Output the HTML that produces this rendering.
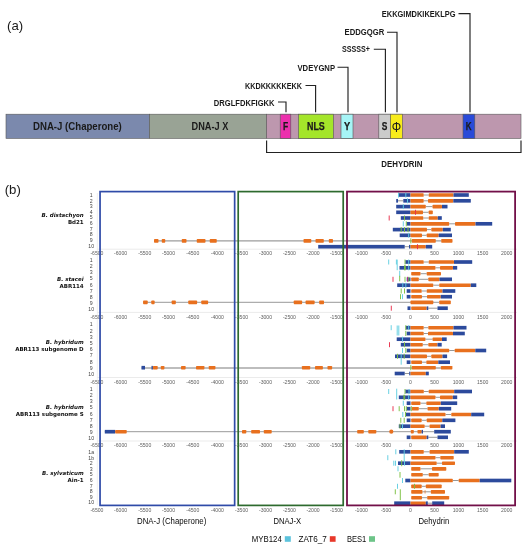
<!DOCTYPE html>
<html lang="en"><head><meta charset="utf-8"><title>Figure</title>
<style>
html,body{margin:0;padding:0;background:#fff;}
svg{display:block;}
</style></head>
<body>
<svg width="528" height="550" viewBox="0 0 528 550">
<rect width="528" height="550" fill="#ffffff"/>
<text x="7.1" y="29.6" font-family="'Liberation Sans',Arial,sans-serif" font-size="13.2" fill="#1a1a1a">(a)</text>
<text x="4.7" y="194.1" font-family="'Liberation Sans',Arial,sans-serif" font-size="13.2" fill="#1a1a1a">(b)</text>
<rect x="6" y="114.2" width="143.50" height="24.2" fill="#7b89ad" stroke="#585858" stroke-width="0.6"/>
<rect x="149.5" y="114.2" width="117.00" height="24.2" fill="#99a395" stroke="#585858" stroke-width="0.6"/>
<rect x="266.5" y="114.2" width="254.50" height="24.2" fill="#bd97ae" stroke="#585858" stroke-width="0.6"/>
<rect x="280.2" y="114.2" width="10.60" height="24.2" fill="#ec30ad" stroke="#585858" stroke-width="0.6"/>
<rect x="298.6" y="114.2" width="34.70" height="24.2" fill="#a4e52a" stroke="#585858" stroke-width="0.6"/>
<rect x="341" y="114.2" width="12.00" height="24.2" fill="#a6f4f6" stroke="#585858" stroke-width="0.6"/>
<rect x="378.8" y="114.2" width="11.50" height="24.2" fill="#cbcbcb" stroke="#585858" stroke-width="0.6"/>
<rect x="390.3" y="114.2" width="12.00" height="24.2" fill="#f8ec1c" stroke="#585858" stroke-width="0.6"/>
<rect x="463" y="114.2" width="11.80" height="24.2" fill="#2a4ad8" stroke="#585858" stroke-width="0.6"/>
<polyline points="278,102 286,102 286,112.3" fill="none" stroke="#222" stroke-width="1.15"/>
<polyline points="305.5,85.5 315.6,85.5 315.6,112.3" fill="none" stroke="#222" stroke-width="1.15"/>
<polyline points="337.5,67.2 348,67.2 348,112.3" fill="none" stroke="#222" stroke-width="1.15"/>
<polyline points="373.8,49.2 385.4,49.2 385.4,112.3" fill="none" stroke="#222" stroke-width="1.15"/>
<polyline points="387,32.2 397,32.2 397,112.3" fill="none" stroke="#222" stroke-width="1.15"/>
<polyline points="458.5,13.6 470,13.6 470,112.3" fill="none" stroke="#222" stroke-width="1.15"/>
<polyline points="266.6,140.5 266.6,152.5 521,152.5 521,140.5" fill="none" stroke="#222" stroke-width="1.15"/>
<text x="213.8" y="106" font-family="'Liberation Sans',Arial,sans-serif" font-weight="bold" fill="#1a1a1a" font-size="8.8" textLength="60.70" lengthAdjust="spacingAndGlyphs">DRGLFDKFIGKK</text>
<text x="245" y="88.8" font-family="'Liberation Sans',Arial,sans-serif" font-weight="bold" fill="#1a1a1a" font-size="8.8" textLength="57.00" lengthAdjust="spacingAndGlyphs">KKDKKKKKEKK</text>
<text x="297.5" y="70.5" font-family="'Liberation Sans',Arial,sans-serif" font-weight="bold" fill="#1a1a1a" font-size="8.8" textLength="37.50" lengthAdjust="spacingAndGlyphs">VDEYGNP</text>
<text x="342" y="52.3" font-family="'Liberation Sans',Arial,sans-serif" font-weight="bold" fill="#1a1a1a" font-size="8.8" textLength="28.00" lengthAdjust="spacingAndGlyphs">SSSSS+</text>
<text x="344.5" y="35.3" font-family="'Liberation Sans',Arial,sans-serif" font-weight="bold" fill="#1a1a1a" font-size="8.8" textLength="39.80" lengthAdjust="spacingAndGlyphs">EDDGQGR</text>
<text x="381.8" y="16.8" font-family="'Liberation Sans',Arial,sans-serif" font-weight="bold" fill="#1a1a1a" font-size="8.8" textLength="73.70" lengthAdjust="spacingAndGlyphs">EKKGIMDKIKEKLPG</text>
<text x="381.3" y="166.5" font-family="'Liberation Sans',Arial,sans-serif" font-weight="bold" fill="#1a1a1a" font-size="8.8" textLength="41.10" lengthAdjust="spacingAndGlyphs">DEHYDRIN</text>
<text x="33" y="130.1" font-family="'Liberation Sans',Arial,sans-serif" font-weight="bold" fill="#1a1a1a" font-size="10.4" textLength="88.80" lengthAdjust="spacingAndGlyphs">DNA-J (Chaperone)</text>
<text x="191.5" y="130.1" font-family="'Liberation Sans',Arial,sans-serif" font-weight="bold" fill="#1a1a1a" font-size="10.4" textLength="36.80" lengthAdjust="spacingAndGlyphs">DNA-J X</text>
<text x="283.00" y="130" font-family="'Liberation Sans',Arial,sans-serif" font-weight="bold" fill="#1a1a1a" stroke="#1a1a1a" stroke-width="0.25" font-size="10.2" textLength="5.2" lengthAdjust="spacingAndGlyphs">F</text>
<text x="307.00" y="130" font-family="'Liberation Sans',Arial,sans-serif" font-weight="bold" fill="#1a1a1a" stroke="#1a1a1a" stroke-width="0.25" font-size="10.2" textLength="17.8" lengthAdjust="spacingAndGlyphs">NLS</text>
<text x="344.00" y="130" font-family="'Liberation Sans',Arial,sans-serif" font-weight="bold" fill="#1a1a1a" stroke="#1a1a1a" stroke-width="0.25" font-size="10.2" textLength="6.2" lengthAdjust="spacingAndGlyphs">Y</text>
<text x="381.70" y="130" font-family="'Liberation Sans',Arial,sans-serif" font-weight="bold" fill="#1a1a1a" stroke="#1a1a1a" stroke-width="0.25" font-size="10.2" textLength="5.6" lengthAdjust="spacingAndGlyphs">S</text>
<text x="465.80" y="130" font-family="'Liberation Sans',Arial,sans-serif" font-weight="bold" fill="#1a1a1a" stroke="#1a1a1a" stroke-width="0.25" font-size="10.2" textLength="5.8" lengthAdjust="spacingAndGlyphs">K</text>
<text transform="translate(396.4,132.1) scale(0.8,1)" x="0" y="0" font-family="'Liberation Sans','DejaVu Sans',sans-serif" font-size="14.8" fill="#1a1a1a" text-anchor="middle">Φ</text>
<g shape-rendering="auto">
<line x1="97.30" y1="249.20" x2="517.00" y2="249.20" stroke="#e2e2e2" stroke-width="0.7"/>
<line x1="97.30" y1="312.40" x2="517.00" y2="312.40" stroke="#e2e2e2" stroke-width="0.7"/>
<line x1="97.30" y1="377.50" x2="517.00" y2="377.50" stroke="#e2e2e2" stroke-width="0.7"/>
<line x1="97.30" y1="441.00" x2="517.00" y2="441.00" stroke="#e2e2e2" stroke-width="0.7"/>
<line x1="97.30" y1="193.00" x2="97.30" y2="505.00" stroke="#e4e4e4" stroke-width="0.6"/>
<g font-family="'Liberation Sans',Arial,sans-serif" font-size="5.1" fill="#606060" text-anchor="middle">
<text x="96.90" y="255.35">-6500</text>
<text x="120.60" y="255.35">-6000</text>
<text x="144.75" y="255.35">-5500</text>
<text x="168.50" y="255.35">-5000</text>
<text x="192.75" y="255.35">-4500</text>
<text x="217.30" y="255.35">-4000</text>
<text x="241.60" y="255.35">-3500</text>
<text x="265.50" y="255.35">-3000</text>
<text x="289.40" y="255.35">-2500</text>
<text x="313.10" y="255.35">-2000</text>
<text x="336.40" y="255.35">-1500</text>
<text x="361.40" y="255.35">-1000</text>
<text x="386.00" y="255.35">-500</text>
<text x="410.50" y="255.35">0</text>
<text x="434.50" y="255.35">500</text>
<text x="458.40" y="255.35">1000</text>
<text x="482.70" y="255.35">1500</text>
<text x="506.70" y="255.35">2000</text>
<text x="96.90" y="318.75">-6500</text>
<text x="120.60" y="318.75">-6000</text>
<text x="144.75" y="318.75">-5500</text>
<text x="168.50" y="318.75">-5000</text>
<text x="192.75" y="318.75">-4500</text>
<text x="217.30" y="318.75">-4000</text>
<text x="241.60" y="318.75">-3500</text>
<text x="265.50" y="318.75">-3000</text>
<text x="289.40" y="318.75">-2500</text>
<text x="313.10" y="318.75">-2000</text>
<text x="336.40" y="318.75">-1500</text>
<text x="361.40" y="318.75">-1000</text>
<text x="386.00" y="318.75">-500</text>
<text x="410.50" y="318.75">0</text>
<text x="434.50" y="318.75">500</text>
<text x="458.40" y="318.75">1000</text>
<text x="482.70" y="318.75">1500</text>
<text x="506.70" y="318.75">2000</text>
<text x="96.90" y="383.95">-6500</text>
<text x="120.60" y="383.95">-6000</text>
<text x="144.75" y="383.95">-5500</text>
<text x="168.50" y="383.95">-5000</text>
<text x="192.75" y="383.95">-4500</text>
<text x="217.30" y="383.95">-4000</text>
<text x="241.60" y="383.95">-3500</text>
<text x="265.50" y="383.95">-3000</text>
<text x="289.40" y="383.95">-2500</text>
<text x="313.10" y="383.95">-2000</text>
<text x="336.40" y="383.95">-1500</text>
<text x="361.40" y="383.95">-1000</text>
<text x="386.00" y="383.95">-500</text>
<text x="410.50" y="383.95">0</text>
<text x="434.50" y="383.95">500</text>
<text x="458.40" y="383.95">1000</text>
<text x="482.70" y="383.95">1500</text>
<text x="506.70" y="383.95">2000</text>
<text x="96.90" y="447.35">-6500</text>
<text x="120.60" y="447.35">-6000</text>
<text x="144.75" y="447.35">-5500</text>
<text x="168.50" y="447.35">-5000</text>
<text x="192.75" y="447.35">-4500</text>
<text x="217.30" y="447.35">-4000</text>
<text x="241.60" y="447.35">-3500</text>
<text x="265.50" y="447.35">-3000</text>
<text x="289.40" y="447.35">-2500</text>
<text x="313.10" y="447.35">-2000</text>
<text x="336.40" y="447.35">-1500</text>
<text x="361.40" y="447.35">-1000</text>
<text x="386.00" y="447.35">-500</text>
<text x="410.50" y="447.35">0</text>
<text x="434.50" y="447.35">500</text>
<text x="458.40" y="447.35">1000</text>
<text x="482.70" y="447.35">1500</text>
<text x="506.70" y="447.35">2000</text>
<text x="96.90" y="511.95">-6500</text>
<text x="120.60" y="511.95">-6000</text>
<text x="144.75" y="511.95">-5500</text>
<text x="168.50" y="511.95">-5000</text>
<text x="192.75" y="511.95">-4500</text>
<text x="217.30" y="511.95">-4000</text>
<text x="241.60" y="511.95">-3500</text>
<text x="265.50" y="511.95">-3000</text>
<text x="289.40" y="511.95">-2500</text>
<text x="313.10" y="511.95">-2000</text>
<text x="336.40" y="511.95">-1500</text>
<text x="361.40" y="511.95">-1000</text>
<text x="386.00" y="511.95">-500</text>
<text x="410.50" y="511.95">0</text>
<text x="434.50" y="511.95">500</text>
<text x="458.40" y="511.95">1000</text>
<text x="482.70" y="511.95">1500</text>
<text x="506.70" y="511.95">2000</text>
</g>
<line x1="423.70" y1="195.00" x2="428.70" y2="195.00" stroke="#7d7d7d" stroke-width="0.8"/>
<rect x="398.30" y="193.18" width="12.20" height="3.65" fill="#2c4a9c"/>
<rect x="410.50" y="193.18" width="13.20" height="3.65" fill="#e8701e" rx="0.7"/>
<rect x="428.70" y="193.18" width="24.80" height="3.65" fill="#e8701e" rx="0.7"/>
<rect x="453.50" y="193.18" width="15.30" height="3.65" fill="#2c4a9c"/>
<line x1="398.50" y1="192.50" x2="398.50" y2="197.50" stroke="#62cfe2" stroke-width="0.95"/>
<line x1="405.80" y1="192.50" x2="405.80" y2="197.50" stroke="#62cfe2" stroke-width="0.95"/>
<line x1="398.00" y1="200.80" x2="403.30" y2="200.80" stroke="#7d7d7d" stroke-width="0.8"/>
<line x1="423.70" y1="200.80" x2="428.00" y2="200.80" stroke="#7d7d7d" stroke-width="0.8"/>
<rect x="396.20" y="198.98" width="1.80" height="3.65" fill="#2c4a9c"/>
<rect x="403.30" y="198.98" width="7.20" height="3.65" fill="#2c4a9c"/>
<rect x="410.50" y="198.98" width="13.20" height="3.65" fill="#e8701e" rx="0.7"/>
<rect x="428.00" y="198.98" width="25.30" height="3.65" fill="#e8701e" rx="0.7"/>
<rect x="453.30" y="198.98" width="17.50" height="3.65" fill="#2c4a9c"/>
<line x1="407.50" y1="198.30" x2="407.50" y2="203.30" stroke="#62cfe2" stroke-width="0.95"/>
<line x1="425.80" y1="206.60" x2="432.50" y2="206.60" stroke="#7d7d7d" stroke-width="0.8"/>
<rect x="396.20" y="204.78" width="14.30" height="3.65" fill="#2c4a9c"/>
<rect x="410.50" y="204.78" width="15.30" height="3.65" fill="#e8701e" rx="0.7"/>
<rect x="432.50" y="204.78" width="9.50" height="3.65" fill="#e8701e" rx="0.7"/>
<rect x="442.00" y="204.78" width="5.50" height="3.65" fill="#2c4a9c"/>
<line x1="403.30" y1="204.10" x2="403.30" y2="209.10" stroke="#62cfe2" stroke-width="0.95"/>
<line x1="423.00" y1="212.30" x2="428.70" y2="212.30" stroke="#7d7d7d" stroke-width="0.8"/>
<rect x="396.20" y="210.48" width="14.30" height="3.65" fill="#2c4a9c"/>
<rect x="410.50" y="210.48" width="12.50" height="3.65" fill="#e8701e" rx="0.7"/>
<rect x="428.70" y="210.48" width="4.10" height="3.65" fill="#e8701e" rx="0.7"/>
<line x1="415.50" y1="209.80" x2="415.50" y2="214.80" stroke="#e8304c" stroke-width="0.95"/>
<line x1="423.30" y1="218.00" x2="428.70" y2="218.00" stroke="#7d7d7d" stroke-width="0.8"/>
<rect x="400.80" y="216.18" width="9.70" height="3.65" fill="#2c4a9c"/>
<rect x="410.50" y="216.18" width="12.80" height="3.65" fill="#e8701e" rx="0.7"/>
<rect x="428.70" y="216.18" width="9.10" height="3.65" fill="#e8701e" rx="0.7"/>
<rect x="437.80" y="216.18" width="4.00" height="3.65" fill="#2c4a9c"/>
<line x1="389.20" y1="215.50" x2="389.20" y2="220.50" stroke="#e8304c" stroke-width="0.95"/>
<line x1="404.50" y1="215.50" x2="404.50" y2="220.50" stroke="#7cc142" stroke-width="0.95"/>
<line x1="449.20" y1="223.80" x2="455.00" y2="223.80" stroke="#7d7d7d" stroke-width="0.8"/>
<rect x="406.70" y="221.98" width="3.80" height="3.65" fill="#2c4a9c"/>
<rect x="410.50" y="221.98" width="38.70" height="3.65" fill="#e8701e" rx="0.7"/>
<rect x="455.00" y="221.98" width="20.50" height="3.65" fill="#e8701e" rx="0.7"/>
<rect x="475.50" y="221.98" width="16.70" height="3.65" fill="#2c4a9c"/>
<line x1="403.30" y1="221.30" x2="403.30" y2="226.30" stroke="#62cfe2" stroke-width="0.95"/>
<line x1="406.30" y1="221.30" x2="406.30" y2="226.30" stroke="#7cc142" stroke-width="0.95"/>
<line x1="427.00" y1="229.60" x2="431.30" y2="229.60" stroke="#7d7d7d" stroke-width="0.8"/>
<rect x="392.80" y="227.78" width="17.70" height="3.65" fill="#2c4a9c"/>
<rect x="410.50" y="227.78" width="16.50" height="3.65" fill="#e8701e" rx="0.7"/>
<rect x="431.30" y="227.78" width="11.50" height="3.65" fill="#e8701e" rx="0.7"/>
<rect x="442.80" y="227.78" width="8.00" height="3.65" fill="#2c4a9c"/>
<line x1="401.20" y1="227.10" x2="401.20" y2="232.10" stroke="#7cc142" stroke-width="0.95"/>
<line x1="404.50" y1="227.10" x2="404.50" y2="232.10" stroke="#7cc142" stroke-width="0.95"/>
<line x1="408.00" y1="227.10" x2="408.00" y2="232.10" stroke="#7cc142" stroke-width="0.95"/>
<line x1="422.00" y1="235.30" x2="426.70" y2="235.30" stroke="#7d7d7d" stroke-width="0.8"/>
<rect x="399.70" y="233.48" width="10.80" height="3.65" fill="#2c4a9c"/>
<rect x="410.50" y="233.48" width="11.50" height="3.65" fill="#e8701e" rx="0.7"/>
<rect x="426.70" y="233.48" width="12.00" height="3.65" fill="#e8701e" rx="0.7"/>
<rect x="438.70" y="233.48" width="13.30" height="3.65" fill="#2c4a9c"/>
<line x1="408.70" y1="232.80" x2="408.70" y2="237.80" stroke="#62cfe2" stroke-width="0.95"/>
<line x1="154.00" y1="240.80" x2="441.20" y2="240.80" stroke="#9c9c9c" stroke-width="1.3"/>
<rect x="154.00" y="239.08" width="4.50" height="3.65" fill="#e8701e" rx="0.7"/>
<rect x="161.75" y="239.08" width="3.50" height="3.65" fill="#e8701e" rx="0.7"/>
<rect x="181.75" y="239.08" width="4.75" height="3.65" fill="#e8701e" rx="0.7"/>
<rect x="196.75" y="239.08" width="8.75" height="3.65" fill="#e8701e" rx="0.7"/>
<rect x="209.75" y="239.08" width="7.00" height="3.65" fill="#e8701e" rx="0.7"/>
<rect x="303.50" y="239.08" width="7.80" height="3.65" fill="#e8701e" rx="0.7"/>
<rect x="315.50" y="239.08" width="8.30" height="3.65" fill="#e8701e" rx="0.7"/>
<rect x="328.80" y="239.08" width="4.20" height="3.65" fill="#e8701e" rx="0.7"/>
<rect x="411.70" y="239.08" width="24.10" height="3.65" fill="#e8701e" rx="0.7"/>
<rect x="441.20" y="239.08" width="11.30" height="3.65" fill="#e8701e" rx="0.7"/>
<line x1="410.80" y1="238.40" x2="410.80" y2="243.40" stroke="#7cc142" stroke-width="0.95"/>
<line x1="404.70" y1="246.70" x2="409.00" y2="246.70" stroke="#7d7d7d" stroke-width="0.8"/>
<rect x="318.20" y="244.88" width="86.50" height="3.65" fill="#2c4a9c"/>
<rect x="409.00" y="244.88" width="1.50" height="3.65" fill="#2c4a9c"/>
<rect x="410.50" y="244.88" width="15.30" height="3.65" fill="#e8701e" rx="0.7"/>
<rect x="425.80" y="244.88" width="6.40" height="3.65" fill="#2c4a9c"/>
<line x1="417.50" y1="244.20" x2="417.50" y2="249.20" stroke="#e8304c" stroke-width="0.95"/>
<line x1="423.70" y1="262.00" x2="428.70" y2="262.00" stroke="#7d7d7d" stroke-width="0.8"/>
<rect x="405.30" y="260.18" width="5.20" height="3.65" fill="#2c4a9c"/>
<rect x="410.50" y="260.18" width="13.20" height="3.65" fill="#e8701e" rx="0.7"/>
<rect x="428.70" y="260.18" width="25.30" height="3.65" fill="#e8701e" rx="0.7"/>
<rect x="454.00" y="260.18" width="18.20" height="3.65" fill="#2c4a9c"/>
<line x1="388.70" y1="259.50" x2="388.70" y2="264.50" stroke="#62cfe2" stroke-width="0.95"/>
<line x1="396.40" y1="259.60" x2="396.40" y2="264.50" stroke="#62cfe2" stroke-width="0.95"/>
<line x1="397.20" y1="259.60" x2="397.20" y2="270.20" stroke="#62cfe2" stroke-width="0.95"/>
<line x1="405.00" y1="259.50" x2="405.00" y2="264.50" stroke="#7cc142" stroke-width="0.95"/>
<line x1="408.70" y1="259.50" x2="408.70" y2="264.50" stroke="#62cfe2" stroke-width="0.95"/>
<line x1="435.50" y1="267.80" x2="440.00" y2="267.80" stroke="#7d7d7d" stroke-width="0.8"/>
<rect x="399.50" y="265.98" width="11.00" height="3.65" fill="#2c4a9c"/>
<rect x="410.50" y="265.98" width="25.00" height="3.65" fill="#e8701e" rx="0.7"/>
<rect x="440.00" y="265.98" width="13.00" height="3.65" fill="#e8701e" rx="0.7"/>
<rect x="453.00" y="265.98" width="4.20" height="3.65" fill="#2c4a9c"/>
<line x1="404.50" y1="265.30" x2="404.50" y2="270.30" stroke="#7cc142" stroke-width="0.95"/>
<line x1="405.30" y1="265.30" x2="405.30" y2="270.30" stroke="#7cc142" stroke-width="0.95"/>
<line x1="408.70" y1="265.30" x2="408.70" y2="270.30" stroke="#62cfe2" stroke-width="0.95"/>
<line x1="420.50" y1="273.70" x2="426.70" y2="273.70" stroke="#7d7d7d" stroke-width="0.8"/>
<rect x="411.20" y="271.88" width="9.30" height="3.65" fill="#e8701e" rx="0.7"/>
<rect x="426.70" y="271.88" width="14.30" height="3.65" fill="#e8701e" rx="0.7"/>
<line x1="399.70" y1="270.70" x2="399.70" y2="276.50" stroke="#62cfe2" stroke-width="0.95"/>
<line x1="418.80" y1="279.30" x2="428.30" y2="279.30" stroke="#7d7d7d" stroke-width="0.8"/>
<rect x="406.70" y="277.48" width="3.80" height="3.65" fill="#2c4a9c"/>
<rect x="411.20" y="277.48" width="7.60" height="3.65" fill="#e8701e" rx="0.7"/>
<rect x="428.30" y="277.48" width="11.20" height="3.65" fill="#e8701e" rx="0.7"/>
<rect x="439.50" y="277.48" width="12.50" height="3.65" fill="#2c4a9c"/>
<line x1="393.00" y1="276.80" x2="393.00" y2="281.80" stroke="#e8304c" stroke-width="0.95"/>
<line x1="399.70" y1="275.80" x2="399.70" y2="281.30" stroke="#7cc142" stroke-width="0.95"/>
<line x1="405.00" y1="276.80" x2="405.00" y2="281.80" stroke="#7cc142" stroke-width="0.95"/>
<line x1="407.60" y1="276.80" x2="407.60" y2="281.80" stroke="#c2258f" stroke-width="0.95"/>
<line x1="408.80" y1="276.80" x2="408.80" y2="281.80" stroke="#7cc142" stroke-width="0.95"/>
<line x1="433.30" y1="285.20" x2="439.20" y2="285.20" stroke="#7d7d7d" stroke-width="0.8"/>
<rect x="397.20" y="283.38" width="13.30" height="3.65" fill="#2c4a9c"/>
<rect x="410.50" y="283.38" width="22.80" height="3.65" fill="#e8701e" rx="0.7"/>
<rect x="439.20" y="283.38" width="31.60" height="3.65" fill="#e8701e" rx="0.7"/>
<rect x="470.80" y="283.38" width="5.50" height="3.65" fill="#2c4a9c"/>
<line x1="402.80" y1="282.70" x2="402.80" y2="287.70" stroke="#62cfe2" stroke-width="0.95"/>
<line x1="405.80" y1="282.70" x2="405.80" y2="287.70" stroke="#62cfe2" stroke-width="0.95"/>
<line x1="421.70" y1="291.00" x2="426.70" y2="291.00" stroke="#7d7d7d" stroke-width="0.8"/>
<rect x="406.70" y="289.18" width="3.80" height="3.65" fill="#2c4a9c"/>
<rect x="411.20" y="289.18" width="10.50" height="3.65" fill="#e8701e" rx="0.7"/>
<rect x="426.70" y="289.18" width="15.80" height="3.65" fill="#e8701e" rx="0.7"/>
<rect x="442.50" y="289.18" width="12.80" height="3.65" fill="#2c4a9c"/>
<line x1="401.20" y1="288.50" x2="401.20" y2="293.50" stroke="#7cc142" stroke-width="0.95"/>
<line x1="404.50" y1="288.50" x2="404.50" y2="293.50" stroke="#7cc142" stroke-width="0.95"/>
<line x1="422.00" y1="296.70" x2="427.00" y2="296.70" stroke="#7d7d7d" stroke-width="0.8"/>
<rect x="406.70" y="294.88" width="3.80" height="3.65" fill="#2c4a9c"/>
<rect x="411.20" y="294.88" width="10.80" height="3.65" fill="#e8701e" rx="0.7"/>
<rect x="427.00" y="294.88" width="13.80" height="3.65" fill="#e8701e" rx="0.7"/>
<rect x="440.80" y="294.88" width="11.20" height="3.65" fill="#2c4a9c"/>
<line x1="400.50" y1="294.20" x2="400.50" y2="299.20" stroke="#7cc142" stroke-width="0.95"/>
<line x1="402.50" y1="294.20" x2="402.50" y2="299.20" stroke="#62cfe2" stroke-width="0.95"/>
<line x1="143.00" y1="302.30" x2="439.20" y2="302.30" stroke="#7d7d7d" stroke-width="0.8"/>
<rect x="143.10" y="300.48" width="4.60" height="3.65" fill="#e8701e" rx="0.7"/>
<rect x="151.30" y="300.48" width="3.30" height="3.65" fill="#e8701e" rx="0.7"/>
<rect x="171.70" y="300.48" width="4.10" height="3.65" fill="#e8701e" rx="0.7"/>
<rect x="188.30" y="300.48" width="8.80" height="3.65" fill="#e8701e" rx="0.7"/>
<rect x="201.30" y="300.48" width="6.80" height="3.65" fill="#e8701e" rx="0.7"/>
<rect x="293.75" y="300.48" width="8.35" height="3.65" fill="#e8701e" rx="0.7"/>
<rect x="305.60" y="300.48" width="9.00" height="3.65" fill="#e8701e" rx="0.7"/>
<rect x="319.20" y="300.48" width="4.80" height="3.65" fill="#e8701e" rx="0.7"/>
<rect x="410.50" y="300.48" width="22.80" height="3.65" fill="#e8701e" rx="0.7"/>
<rect x="439.20" y="300.48" width="11.60" height="3.65" fill="#e8701e" rx="0.7"/>
<line x1="428.30" y1="308.20" x2="437.50" y2="308.20" stroke="#7d7d7d" stroke-width="0.8"/>
<rect x="407.50" y="306.38" width="3.00" height="3.65" fill="#2c4a9c"/>
<rect x="411.20" y="306.38" width="15.50" height="3.65" fill="#e8701e" rx="0.7"/>
<rect x="426.70" y="306.38" width="1.60" height="3.65" fill="#2c4a9c"/>
<rect x="437.50" y="306.38" width="10.30" height="3.65" fill="#2c4a9c"/>
<line x1="391.30" y1="305.70" x2="391.30" y2="310.70" stroke="#e8304c" stroke-width="0.95"/>
<line x1="423.70" y1="327.70" x2="428.30" y2="327.70" stroke="#7d7d7d" stroke-width="0.8"/>
<rect x="405.80" y="325.88" width="4.70" height="3.65" fill="#2c4a9c"/>
<rect x="410.50" y="325.88" width="13.20" height="3.65" fill="#e8701e" rx="0.7"/>
<rect x="428.30" y="325.88" width="25.20" height="3.65" fill="#e8701e" rx="0.7"/>
<rect x="453.50" y="325.88" width="13.00" height="3.65" fill="#2c4a9c"/>
<line x1="391.20" y1="325.20" x2="391.20" y2="330.20" stroke="#62cfe2" stroke-width="0.95"/>
<line x1="397.20" y1="325.50" x2="397.20" y2="335.50" stroke="#62cfe2" stroke-width="0.95"/>
<line x1="398.80" y1="325.50" x2="398.80" y2="335.50" stroke="#62cfe2" stroke-width="0.95"/>
<line x1="405.80" y1="325.20" x2="405.80" y2="330.20" stroke="#7cc142" stroke-width="0.95"/>
<line x1="408.70" y1="325.20" x2="408.70" y2="330.20" stroke="#62cfe2" stroke-width="0.95"/>
<line x1="423.70" y1="333.50" x2="428.00" y2="333.50" stroke="#7d7d7d" stroke-width="0.8"/>
<rect x="406.70" y="331.68" width="3.80" height="3.65" fill="#2c4a9c"/>
<rect x="410.50" y="331.68" width="13.20" height="3.65" fill="#e8701e" rx="0.7"/>
<rect x="428.00" y="331.68" width="25.00" height="3.65" fill="#e8701e" rx="0.7"/>
<rect x="453.00" y="331.68" width="11.80" height="3.65" fill="#2c4a9c"/>
<line x1="405.80" y1="331.00" x2="405.80" y2="336.00" stroke="#7cc142" stroke-width="0.95"/>
<line x1="425.50" y1="339.20" x2="432.50" y2="339.20" stroke="#7d7d7d" stroke-width="0.8"/>
<rect x="396.70" y="337.38" width="13.80" height="3.65" fill="#2c4a9c"/>
<rect x="410.50" y="337.38" width="15.00" height="3.65" fill="#e8701e" rx="0.7"/>
<rect x="432.50" y="337.38" width="9.50" height="3.65" fill="#e8701e" rx="0.7"/>
<rect x="442.00" y="337.38" width="4.70" height="3.65" fill="#2c4a9c"/>
<line x1="402.50" y1="336.70" x2="402.50" y2="341.70" stroke="#62cfe2" stroke-width="0.95"/>
<line x1="422.80" y1="344.70" x2="428.30" y2="344.70" stroke="#7d7d7d" stroke-width="0.8"/>
<rect x="400.80" y="342.88" width="9.70" height="3.65" fill="#2c4a9c"/>
<rect x="410.50" y="342.88" width="12.30" height="3.65" fill="#e8701e" rx="0.7"/>
<rect x="428.30" y="342.88" width="9.20" height="3.65" fill="#e8701e" rx="0.7"/>
<rect x="437.50" y="342.88" width="4.20" height="3.65" fill="#2c4a9c"/>
<line x1="389.50" y1="342.20" x2="389.50" y2="347.20" stroke="#e8304c" stroke-width="0.95"/>
<line x1="404.50" y1="342.20" x2="404.50" y2="347.20" stroke="#7cc142" stroke-width="0.95"/>
<line x1="449.20" y1="350.50" x2="454.70" y2="350.50" stroke="#7d7d7d" stroke-width="0.8"/>
<rect x="406.70" y="348.68" width="3.80" height="3.65" fill="#2c4a9c"/>
<rect x="410.50" y="348.68" width="38.70" height="3.65" fill="#e8701e" rx="0.7"/>
<rect x="454.70" y="348.68" width="20.60" height="3.65" fill="#e8701e" rx="0.7"/>
<rect x="475.30" y="348.68" width="10.90" height="3.65" fill="#2c4a9c"/>
<line x1="402.50" y1="348.00" x2="402.50" y2="353.00" stroke="#62cfe2" stroke-width="0.95"/>
<line x1="405.80" y1="348.00" x2="405.80" y2="353.00" stroke="#7cc142" stroke-width="0.95"/>
<line x1="427.00" y1="356.30" x2="431.30" y2="356.30" stroke="#7d7d7d" stroke-width="0.8"/>
<rect x="395.00" y="354.48" width="15.50" height="3.65" fill="#2c4a9c"/>
<rect x="410.50" y="354.48" width="16.50" height="3.65" fill="#e8701e" rx="0.7"/>
<rect x="431.30" y="354.48" width="11.20" height="3.65" fill="#e8701e" rx="0.7"/>
<rect x="442.50" y="354.48" width="4.60" height="3.65" fill="#2c4a9c"/>
<line x1="397.50" y1="353.80" x2="397.50" y2="358.80" stroke="#7cc142" stroke-width="0.95"/>
<line x1="401.20" y1="353.80" x2="401.20" y2="364.70" stroke="#62cfe2" stroke-width="0.95"/>
<line x1="404.20" y1="353.80" x2="404.20" y2="358.80" stroke="#7cc142" stroke-width="0.95"/>
<line x1="422.00" y1="362.20" x2="426.30" y2="362.20" stroke="#7d7d7d" stroke-width="0.8"/>
<rect x="406.70" y="360.38" width="3.80" height="3.65" fill="#2c4a9c"/>
<rect x="411.20" y="360.38" width="10.80" height="3.65" fill="#e8701e" rx="0.7"/>
<rect x="426.30" y="360.38" width="12.00" height="3.65" fill="#e8701e" rx="0.7"/>
<rect x="438.30" y="360.38" width="11.70" height="3.65" fill="#2c4a9c"/>
<line x1="141.50" y1="367.90" x2="440.80" y2="367.90" stroke="#bdbdbd" stroke-width="2.0"/>
<rect x="141.50" y="365.88" width="3.50" height="3.65" fill="#2c4a9c"/>
<rect x="151.50" y="365.88" width="1.40" height="3.65" fill="#2c4a9c"/>
<rect x="152.90" y="365.88" width="4.80" height="3.65" fill="#e8701e" rx="0.7"/>
<rect x="160.80" y="365.88" width="3.60" height="3.65" fill="#e8701e" rx="0.7"/>
<rect x="181.00" y="365.88" width="4.60" height="3.65" fill="#e8701e" rx="0.7"/>
<rect x="196.00" y="365.88" width="8.40" height="3.65" fill="#e8701e" rx="0.7"/>
<rect x="208.75" y="365.88" width="6.65" height="3.65" fill="#e8701e" rx="0.7"/>
<rect x="301.90" y="365.88" width="8.30" height="3.65" fill="#e8701e" rx="0.7"/>
<rect x="315.00" y="365.88" width="7.90" height="3.65" fill="#e8701e" rx="0.7"/>
<rect x="327.50" y="365.88" width="4.60" height="3.65" fill="#e8701e" rx="0.7"/>
<rect x="411.70" y="365.88" width="24.10" height="3.65" fill="#e8701e" rx="0.7"/>
<rect x="440.80" y="365.88" width="11.60" height="3.65" fill="#e8701e" rx="0.7"/>
<line x1="410.80" y1="365.20" x2="410.80" y2="370.20" stroke="#7cc142" stroke-width="0.95"/>
<line x1="404.70" y1="373.50" x2="409.20" y2="373.50" stroke="#7d7d7d" stroke-width="0.8"/>
<rect x="394.70" y="371.68" width="10.00" height="3.65" fill="#2c4a9c"/>
<rect x="409.20" y="371.68" width="1.30" height="3.65" fill="#2c4a9c"/>
<rect x="410.50" y="371.68" width="15.30" height="3.65" fill="#e8701e" rx="0.7"/>
<rect x="425.80" y="371.68" width="3.00" height="3.65" fill="#2c4a9c"/>
<line x1="423.80" y1="391.50" x2="428.70" y2="391.50" stroke="#7d7d7d" stroke-width="0.8"/>
<rect x="405.30" y="389.68" width="5.20" height="3.65" fill="#2c4a9c"/>
<rect x="410.50" y="389.68" width="13.30" height="3.65" fill="#e8701e" rx="0.7"/>
<rect x="428.70" y="389.68" width="25.50" height="3.65" fill="#e8701e" rx="0.7"/>
<rect x="454.20" y="389.68" width="17.80" height="3.65" fill="#2c4a9c"/>
<line x1="388.70" y1="389.00" x2="388.70" y2="394.00" stroke="#62cfe2" stroke-width="0.95"/>
<line x1="396.70" y1="388.70" x2="396.70" y2="399.50" stroke="#62cfe2" stroke-width="0.95"/>
<line x1="405.00" y1="389.00" x2="405.00" y2="394.00" stroke="#7cc142" stroke-width="0.95"/>
<line x1="409.00" y1="389.00" x2="409.00" y2="394.00" stroke="#62cfe2" stroke-width="0.95"/>
<line x1="435.50" y1="397.30" x2="440.00" y2="397.30" stroke="#7d7d7d" stroke-width="0.8"/>
<rect x="398.80" y="395.48" width="11.70" height="3.65" fill="#2c4a9c"/>
<rect x="410.50" y="395.48" width="25.00" height="3.65" fill="#e8701e" rx="0.7"/>
<rect x="440.00" y="395.48" width="12.80" height="3.65" fill="#e8701e" rx="0.7"/>
<rect x="452.80" y="395.48" width="4.40" height="3.65" fill="#2c4a9c"/>
<line x1="403.90" y1="394.80" x2="403.90" y2="399.80" stroke="#7cc142" stroke-width="0.95"/>
<line x1="404.70" y1="394.80" x2="404.70" y2="399.80" stroke="#7cc142" stroke-width="0.95"/>
<line x1="408.70" y1="394.80" x2="408.70" y2="399.80" stroke="#62cfe2" stroke-width="0.95"/>
<line x1="420.50" y1="403.20" x2="426.30" y2="403.20" stroke="#7d7d7d" stroke-width="0.8"/>
<rect x="406.70" y="401.38" width="3.80" height="3.65" fill="#2c4a9c"/>
<rect x="411.20" y="401.38" width="9.30" height="3.65" fill="#e8701e" rx="0.7"/>
<rect x="426.30" y="401.38" width="14.50" height="3.65" fill="#e8701e" rx="0.7"/>
<rect x="440.80" y="401.38" width="16.40" height="3.65" fill="#2c4a9c"/>
<line x1="403.30" y1="400.70" x2="403.30" y2="405.70" stroke="#62cfe2" stroke-width="0.95"/>
<line x1="418.80" y1="408.70" x2="427.50" y2="408.70" stroke="#7d7d7d" stroke-width="0.8"/>
<rect x="406.70" y="406.88" width="3.80" height="3.65" fill="#2c4a9c"/>
<rect x="411.70" y="406.88" width="7.10" height="3.65" fill="#e8701e" rx="0.7"/>
<rect x="427.50" y="406.88" width="11.30" height="3.65" fill="#e8701e" rx="0.7"/>
<rect x="438.80" y="406.88" width="12.40" height="3.65" fill="#2c4a9c"/>
<line x1="393.00" y1="406.20" x2="393.00" y2="411.20" stroke="#e8304c" stroke-width="0.95"/>
<line x1="399.20" y1="406.20" x2="399.20" y2="411.20" stroke="#7cc142" stroke-width="0.95"/>
<line x1="404.50" y1="406.20" x2="404.50" y2="411.20" stroke="#7cc142" stroke-width="0.95"/>
<line x1="406.30" y1="406.20" x2="406.30" y2="411.20" stroke="#7cc142" stroke-width="0.95"/>
<line x1="411.30" y1="406.20" x2="411.30" y2="411.20" stroke="#7cc142" stroke-width="0.95"/>
<line x1="445.50" y1="414.50" x2="451.30" y2="414.50" stroke="#7d7d7d" stroke-width="0.8"/>
<rect x="405.80" y="412.68" width="4.70" height="3.65" fill="#2c4a9c"/>
<rect x="410.50" y="412.68" width="35.00" height="3.65" fill="#e8701e" rx="0.7"/>
<rect x="451.30" y="412.68" width="19.90" height="3.65" fill="#e8701e" rx="0.7"/>
<rect x="471.20" y="412.68" width="13.00" height="3.65" fill="#2c4a9c"/>
<line x1="402.80" y1="412.00" x2="402.80" y2="417.00" stroke="#62cfe2" stroke-width="0.95"/>
<line x1="405.50" y1="412.00" x2="405.50" y2="417.00" stroke="#7cc142" stroke-width="0.95"/>
<line x1="421.70" y1="420.30" x2="426.70" y2="420.30" stroke="#7d7d7d" stroke-width="0.8"/>
<rect x="406.70" y="418.48" width="3.80" height="3.65" fill="#2c4a9c"/>
<rect x="411.20" y="418.48" width="10.50" height="3.65" fill="#e8701e" rx="0.7"/>
<rect x="426.70" y="418.48" width="15.60" height="3.65" fill="#e8701e" rx="0.7"/>
<rect x="442.30" y="418.48" width="13.10" height="3.65" fill="#2c4a9c"/>
<line x1="400.80" y1="417.80" x2="400.80" y2="422.80" stroke="#7cc142" stroke-width="0.95"/>
<line x1="404.20" y1="417.80" x2="404.20" y2="422.80" stroke="#7cc142" stroke-width="0.95"/>
<line x1="424.70" y1="426.20" x2="429.50" y2="426.20" stroke="#7d7d7d" stroke-width="0.8"/>
<rect x="398.80" y="424.38" width="11.70" height="3.65" fill="#2c4a9c"/>
<rect x="410.50" y="424.38" width="14.20" height="3.65" fill="#e8701e" rx="0.7"/>
<rect x="429.50" y="424.38" width="11.10" height="3.65" fill="#e8701e" rx="0.7"/>
<rect x="440.60" y="424.38" width="4.40" height="3.65" fill="#2c4a9c"/>
<line x1="400.00" y1="423.70" x2="400.00" y2="428.70" stroke="#7cc142" stroke-width="0.95"/>
<line x1="402.50" y1="423.70" x2="402.50" y2="428.70" stroke="#62cfe2" stroke-width="0.95"/>
<line x1="104.80" y1="431.70" x2="434.20" y2="431.70" stroke="#7d7d7d" stroke-width="0.8"/>
<rect x="104.80" y="429.88" width="10.40" height="3.65" fill="#2c4a9c"/>
<rect x="115.20" y="429.88" width="11.50" height="3.65" fill="#e8701e" rx="0.7"/>
<rect x="242.00" y="429.88" width="4.30" height="3.65" fill="#e8701e" rx="0.7"/>
<rect x="251.20" y="429.88" width="8.80" height="3.65" fill="#e8701e" rx="0.7"/>
<rect x="263.80" y="429.88" width="7.90" height="3.65" fill="#e8701e" rx="0.7"/>
<rect x="357.20" y="429.88" width="6.60" height="3.65" fill="#e8701e" rx="0.7"/>
<rect x="368.30" y="429.88" width="8.00" height="3.65" fill="#e8701e" rx="0.7"/>
<circle cx="391.3" cy="431.7" r="2.1" fill="#e8701e"/>
<rect x="410.80" y="429.88" width="3.00" height="3.65" fill="#e8701e" rx="0.7"/>
<rect x="417.50" y="429.88" width="4.20" height="3.65" fill="#e8701e" rx="0.7"/>
<rect x="421.70" y="429.88" width="1.30" height="3.65" fill="#2c4a9c"/>
<rect x="434.20" y="429.88" width="16.60" height="3.65" fill="#2c4a9c"/>
<line x1="428.30" y1="437.30" x2="437.50" y2="437.30" stroke="#7d7d7d" stroke-width="0.8"/>
<rect x="406.70" y="435.48" width="3.80" height="3.65" fill="#2c4a9c"/>
<rect x="411.20" y="435.48" width="15.50" height="3.65" fill="#e8701e" rx="0.7"/>
<rect x="426.70" y="435.48" width="1.60" height="3.65" fill="#2c4a9c"/>
<rect x="437.50" y="435.48" width="10.50" height="3.65" fill="#2c4a9c"/>
<line x1="423.80" y1="451.80" x2="429.50" y2="451.80" stroke="#7d7d7d" stroke-width="0.8"/>
<rect x="399.20" y="449.98" width="11.30" height="3.65" fill="#2c4a9c"/>
<rect x="410.50" y="449.98" width="13.30" height="3.65" fill="#e8701e" rx="0.7"/>
<rect x="429.50" y="449.98" width="24.70" height="3.65" fill="#e8701e" rx="0.7"/>
<rect x="454.20" y="449.98" width="14.60" height="3.65" fill="#2c4a9c"/>
<line x1="395.80" y1="449.30" x2="395.80" y2="454.30" stroke="#62cfe2" stroke-width="0.95"/>
<line x1="404.20" y1="449.30" x2="404.20" y2="461.00" stroke="#62cfe2" stroke-width="0.95"/>
<line x1="435.50" y1="457.70" x2="440.30" y2="457.70" stroke="#7d7d7d" stroke-width="0.8"/>
<rect x="411.20" y="455.88" width="24.30" height="3.65" fill="#e8701e" rx="0.7"/>
<rect x="440.30" y="455.88" width="13.40" height="3.65" fill="#e8701e" rx="0.7"/>
<line x1="387.80" y1="455.20" x2="387.80" y2="460.20" stroke="#62cfe2" stroke-width="0.95"/>
<line x1="436.70" y1="463.20" x2="442.00" y2="463.20" stroke="#7d7d7d" stroke-width="0.8"/>
<rect x="398.00" y="461.38" width="12.50" height="3.65" fill="#2c4a9c"/>
<rect x="410.50" y="461.38" width="26.20" height="3.65" fill="#e8701e" rx="0.7"/>
<rect x="442.00" y="461.38" width="13.00" height="3.65" fill="#e8701e" rx="0.7"/>
<line x1="393.80" y1="460.70" x2="393.80" y2="465.70" stroke="#62cfe2" stroke-width="0.95"/>
<line x1="395.50" y1="460.70" x2="395.50" y2="465.70" stroke="#62cfe2" stroke-width="0.95"/>
<line x1="401.70" y1="460.20" x2="401.70" y2="466.20" stroke="#7cc142" stroke-width="0.95"/>
<line x1="404.50" y1="460.70" x2="404.50" y2="465.70" stroke="#62cfe2" stroke-width="0.95"/>
<line x1="420.50" y1="468.80" x2="432.00" y2="468.80" stroke="#7d7d7d" stroke-width="0.8"/>
<rect x="411.20" y="466.98" width="9.30" height="3.65" fill="#e8701e" rx="0.7"/>
<rect x="432.00" y="466.98" width="14.30" height="3.65" fill="#e8701e" rx="0.7"/>
<line x1="398.00" y1="466.30" x2="398.00" y2="471.30" stroke="#62cfe2" stroke-width="0.95"/>
<line x1="422.80" y1="474.70" x2="428.70" y2="474.70" stroke="#7d7d7d" stroke-width="0.8"/>
<rect x="411.20" y="472.88" width="11.60" height="3.65" fill="#e8701e" rx="0.7"/>
<rect x="428.70" y="472.88" width="10.00" height="3.65" fill="#e8701e" rx="0.7"/>
<line x1="400.00" y1="472.00" x2="400.00" y2="477.70" stroke="#7cc142" stroke-width="0.95"/>
<line x1="452.80" y1="480.50" x2="458.70" y2="480.50" stroke="#7d7d7d" stroke-width="0.8"/>
<rect x="405.30" y="478.68" width="5.20" height="3.65" fill="#2c4a9c"/>
<rect x="410.50" y="478.68" width="42.30" height="3.65" fill="#e8701e" rx="0.7"/>
<rect x="458.70" y="478.68" width="21.00" height="3.65" fill="#e8701e" rx="0.7"/>
<rect x="479.70" y="478.68" width="31.60" height="3.65" fill="#2c4a9c"/>
<line x1="402.50" y1="478.00" x2="402.50" y2="483.00" stroke="#62cfe2" stroke-width="0.95"/>
<line x1="421.70" y1="486.30" x2="425.80" y2="486.30" stroke="#7d7d7d" stroke-width="0.8"/>
<rect x="411.20" y="484.48" width="10.50" height="3.65" fill="#e8701e" rx="0.7"/>
<rect x="425.80" y="484.48" width="15.90" height="3.65" fill="#e8701e" rx="0.7"/>
<line x1="397.50" y1="483.80" x2="397.50" y2="488.80" stroke="#62cfe2" stroke-width="0.95"/>
<line x1="414.50" y1="483.80" x2="414.50" y2="488.80" stroke="#7cc142" stroke-width="0.95"/>
<line x1="422.50" y1="491.80" x2="430.80" y2="491.80" stroke="#7d7d7d" stroke-width="0.8"/>
<rect x="411.20" y="489.98" width="11.30" height="3.65" fill="#e8701e" rx="0.7"/>
<rect x="424.70" y="489.98" width="0.70" height="3.65" fill="#e8701e" rx="0.7"/>
<rect x="430.80" y="489.98" width="14.20" height="3.65" fill="#e8701e" rx="0.7"/>
<line x1="395.30" y1="489.30" x2="395.30" y2="494.30" stroke="#7cc142" stroke-width="0.95"/>
<line x1="400.30" y1="489.30" x2="400.30" y2="500.20" stroke="#7cc142" stroke-width="0.95"/>
<line x1="422.00" y1="497.70" x2="427.20" y2="497.70" stroke="#7d7d7d" stroke-width="0.8"/>
<rect x="411.20" y="495.88" width="10.80" height="3.65" fill="#e8701e" rx="0.7"/>
<rect x="427.20" y="495.88" width="22.00" height="3.65" fill="#e8701e" rx="0.7"/>
<line x1="427.80" y1="503.20" x2="432.20" y2="503.20" stroke="#7d7d7d" stroke-width="0.8"/>
<rect x="394.20" y="501.38" width="16.30" height="3.65" fill="#2c4a9c"/>
<rect x="410.50" y="501.38" width="15.30" height="3.65" fill="#e8701e" rx="0.7"/>
<rect x="425.80" y="501.38" width="2.00" height="3.65" fill="#2c4a9c"/>
<rect x="432.20" y="501.38" width="12.00" height="3.65" fill="#2c4a9c"/>
</g>
<g font-family="'Liberation Sans',Arial,sans-serif" font-size="5.2" fill="#444" text-anchor="middle">
<text x="91.2" y="196.90">1</text>
<text x="91.2" y="202.54">2</text>
<text x="91.2" y="208.18">3</text>
<text x="91.2" y="213.82">4</text>
<text x="91.2" y="219.46">5</text>
<text x="91.2" y="225.09">6</text>
<text x="91.2" y="230.73">7</text>
<text x="91.2" y="236.37">8</text>
<text x="91.2" y="242.01">9</text>
<text x="91.2" y="247.65">10</text>
<text x="91.2" y="261.90">1</text>
<text x="91.2" y="268.05">2</text>
<text x="91.2" y="274.20">3</text>
<text x="91.2" y="280.35">5</text>
<text x="91.2" y="286.50">6</text>
<text x="91.2" y="292.65">7</text>
<text x="91.2" y="298.80">8</text>
<text x="91.2" y="304.95">9</text>
<text x="91.2" y="311.10">10</text>
<text x="91.2" y="326.30">1</text>
<text x="91.2" y="332.50">2</text>
<text x="91.2" y="338.70">3</text>
<text x="91.2" y="344.90">5</text>
<text x="91.2" y="351.10">6</text>
<text x="91.2" y="357.30">7</text>
<text x="91.2" y="363.50">8</text>
<text x="91.2" y="369.70">9</text>
<text x="91.2" y="375.90">10</text>
<text x="91.2" y="390.90">1</text>
<text x="91.2" y="397.06">2</text>
<text x="91.2" y="403.22">3</text>
<text x="91.2" y="409.39">5</text>
<text x="91.2" y="415.55">6</text>
<text x="91.2" y="421.71">7</text>
<text x="91.2" y="427.88">8</text>
<text x="91.2" y="434.04">9</text>
<text x="91.2" y="440.20">10</text>
<text x="91.2" y="453.90">1a</text>
<text x="91.2" y="459.51">1b</text>
<text x="91.2" y="465.12">2</text>
<text x="91.2" y="470.73">3</text>
<text x="91.2" y="476.34">5</text>
<text x="91.2" y="481.96">6</text>
<text x="91.2" y="487.57">7</text>
<text x="91.2" y="493.18">8</text>
<text x="91.2" y="498.79">9</text>
<text x="91.2" y="504.40">10</text>
</g>
<g font-family="'DejaVu Sans',Verdana,sans-serif" font-size="5.5" font-weight="bold" fill="#111" text-anchor="end">
<text x="83.7" y="216.70" font-style="italic">B. distachyon</text>
<text x="83.7" y="223.70">Bd21</text>
<text x="83.7" y="280.90" font-style="italic">B. stacei</text>
<text x="83.7" y="287.90">ABR114</text>
<text x="83.7" y="343.90" font-style="italic">B. hybridum</text>
<text x="83.7" y="350.90">ABR113 subgenome D</text>
<text x="83.7" y="408.90" font-style="italic">B. hybridum</text>
<text x="83.7" y="415.90">ABR113 subgenome S</text>
<text x="83.7" y="475.10" font-style="italic">B. sylvaticum</text>
<text x="83.7" y="482.10">Ain-1</text>
</g>
<rect x="100.05" y="191.6" width="134.6" height="313.8" fill="none" stroke="#2f4ba8" stroke-width="1.7"/>
<rect x="238.2" y="191.6" width="105" height="313.8" fill="none" stroke="#2d6a2e" stroke-width="1.7"/>
<rect x="347" y="191.6" width="168.1" height="313.8" fill="none" stroke="#721049" stroke-width="1.8"/>
<text x="137" y="524.4" font-family="'Liberation Sans',Arial,sans-serif" fill="#0a0a0a" font-size="8.2" textLength="69.30" lengthAdjust="spacingAndGlyphs">DNA-J (Chaperone)</text>
<text x="273.5" y="524.4" font-family="'Liberation Sans',Arial,sans-serif" fill="#0a0a0a" font-size="8.2" textLength="27.50" lengthAdjust="spacingAndGlyphs">DNAJ-X</text>
<text x="418.5" y="524.4" font-family="'Liberation Sans',Arial,sans-serif" fill="#0a0a0a" font-size="8.2" textLength="30.80" lengthAdjust="spacingAndGlyphs">Dehydrin</text>
<text x="251.8" y="541.9" font-family="'Liberation Sans',Arial,sans-serif" fill="#0a0a0a" font-size="8.6" textLength="30.00" lengthAdjust="spacingAndGlyphs">MYB124</text>
<text x="298.5" y="541.9" font-family="'Liberation Sans',Arial,sans-serif" fill="#0a0a0a" font-size="8.6" textLength="28.30" lengthAdjust="spacingAndGlyphs">ZAT6_7</text>
<text x="347" y="541.9" font-family="'Liberation Sans',Arial,sans-serif" fill="#0a0a0a" font-size="8.6" textLength="19.30" lengthAdjust="spacingAndGlyphs">BES1</text>
<rect x="284.8" y="536.2" width="6" height="5.6" fill="#5cc3dc"/>
<rect x="329.8" y="536.2" width="5.8" height="5.6" fill="#e8382a"/>
<rect x="369" y="536.2" width="6" height="5.6" fill="#6dc488"/>
</svg>
</body></html>
